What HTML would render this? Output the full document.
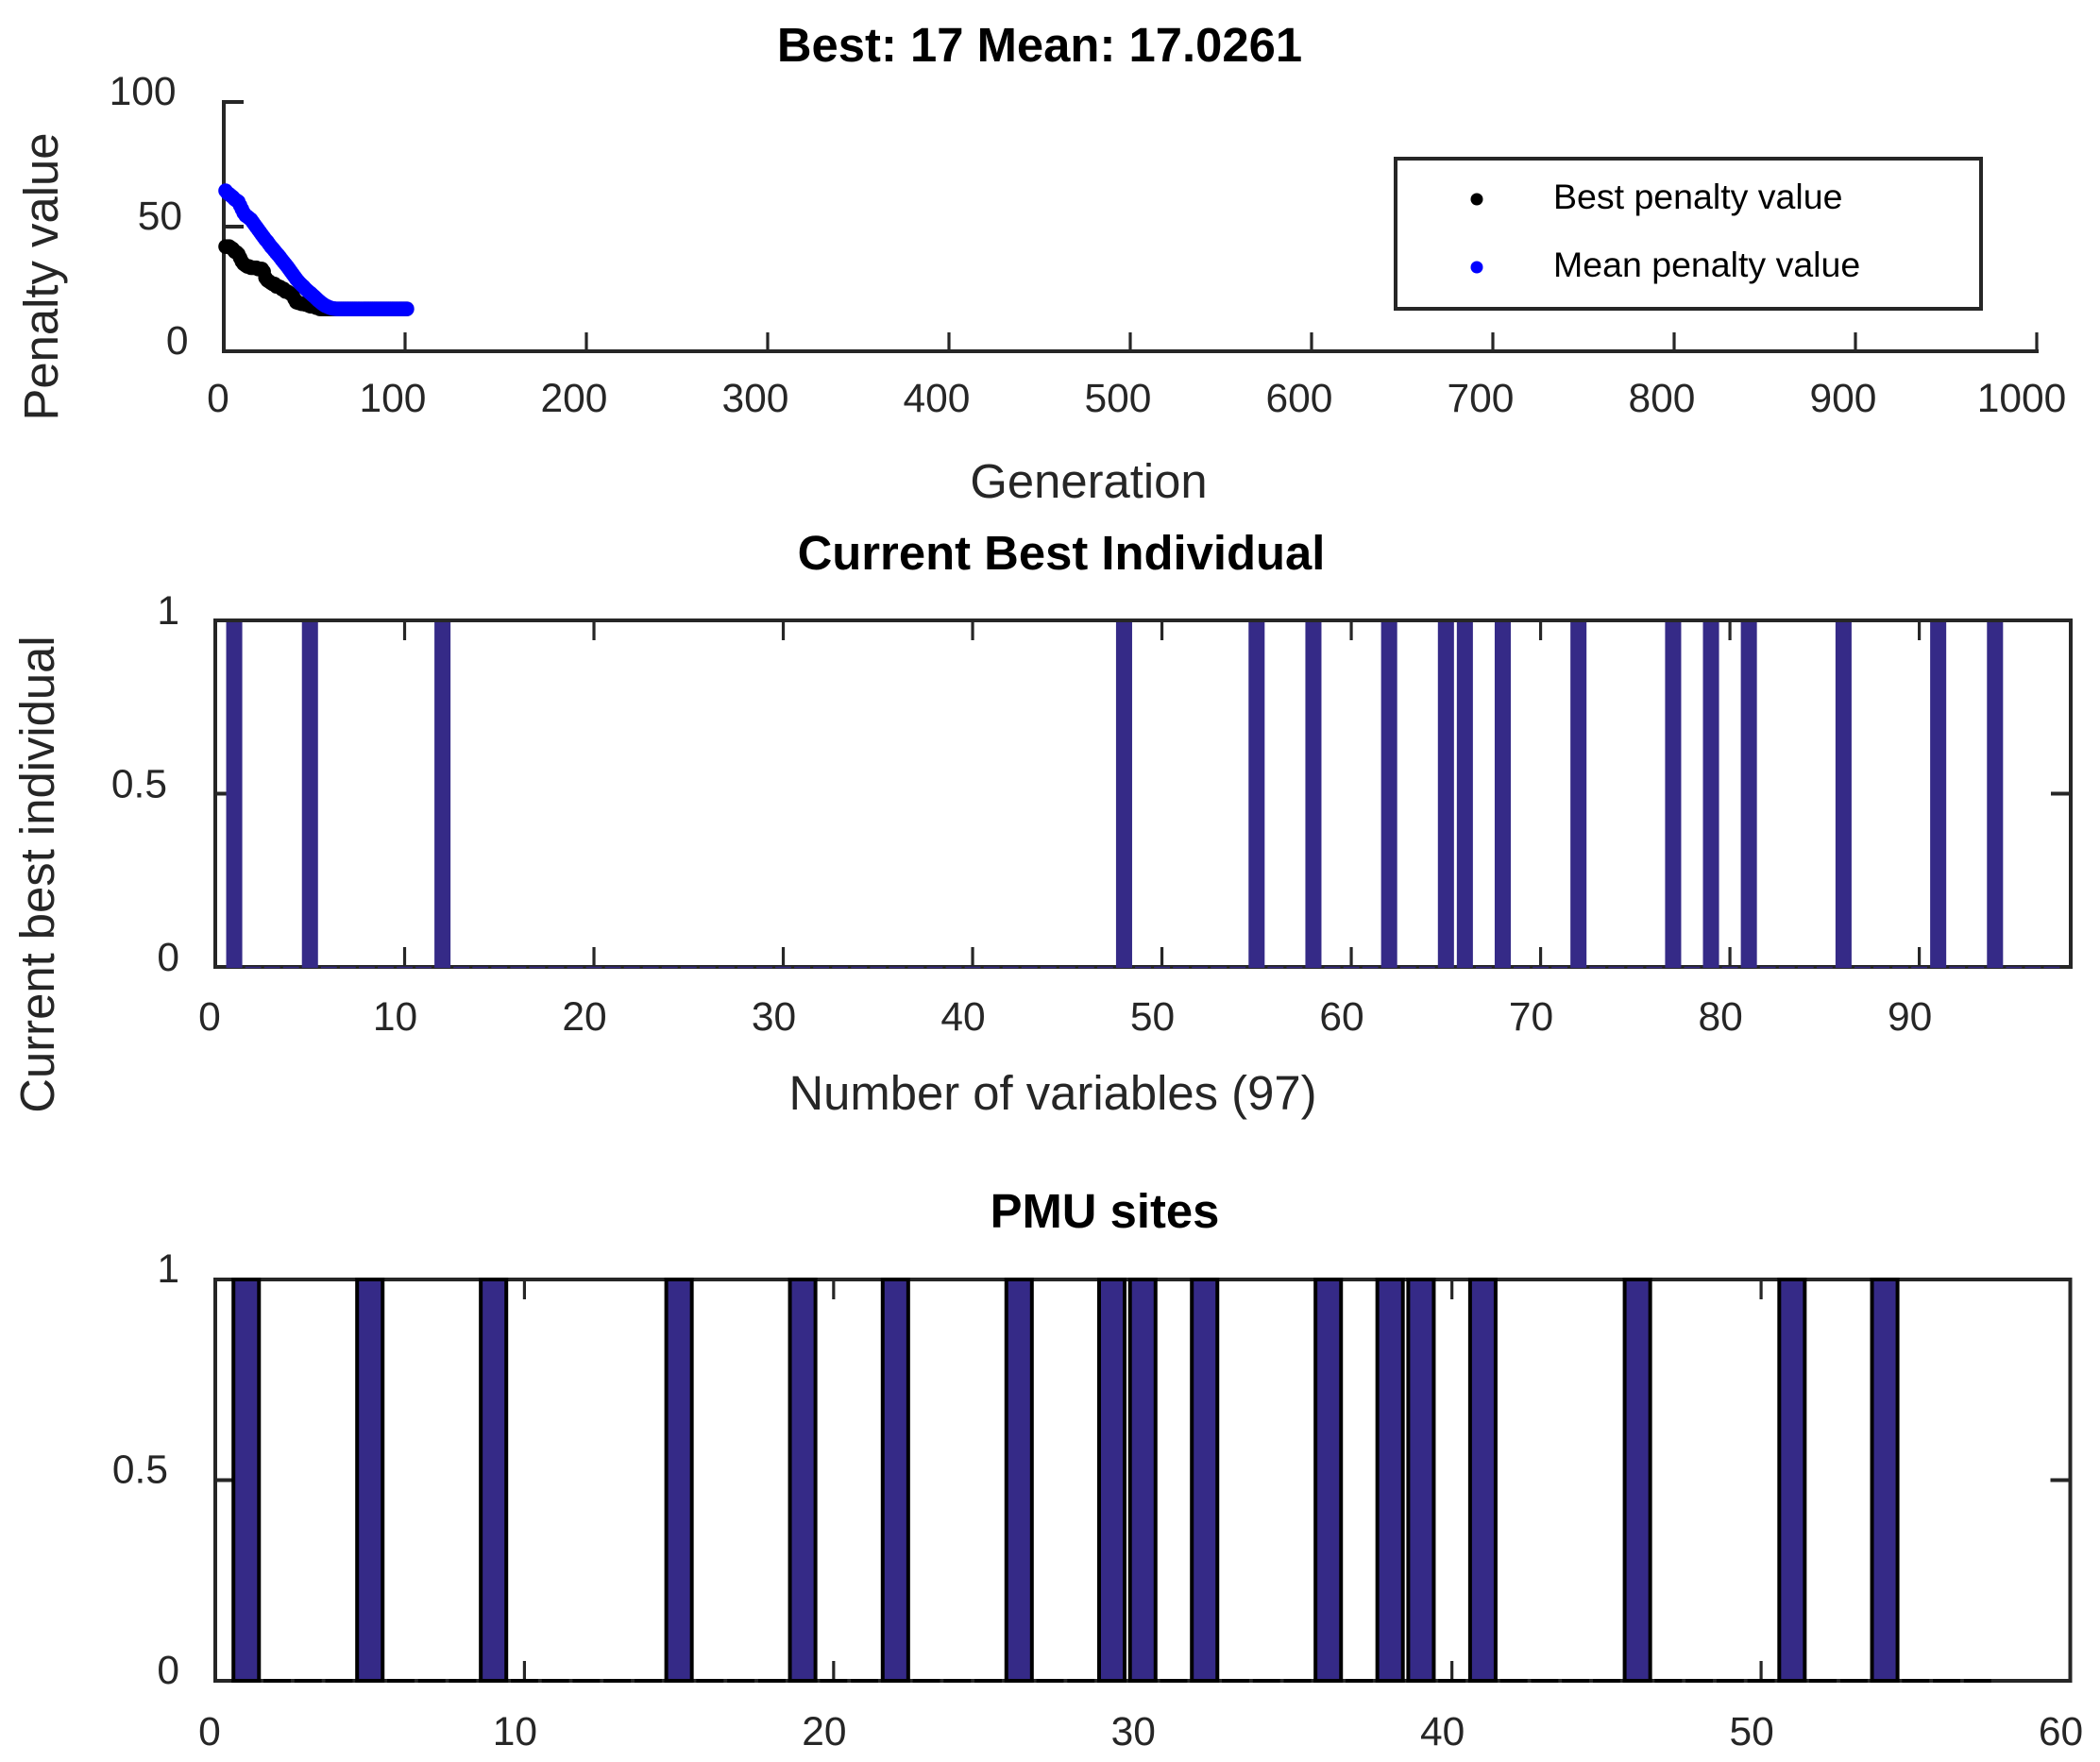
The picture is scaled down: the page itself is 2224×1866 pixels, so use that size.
<!DOCTYPE html>
<html lang="en">
<head>
<meta charset="utf-8">
<title>Genetic algorithm PMU placement</title>
<style>
  html, body { margin: 0; padding: 0; background: #ffffff; }
  svg { display: block; }
  text { font-family: "Liberation Sans", Arial, sans-serif; fill: #262626; }
  .tick-text { font-size: 42.5px; }
  .axis-title { font-size: 50.8px; }
  .chart-title { font-size: 50.8px; font-weight: bold; fill: #000000; }
  .legend-text { font-size: 37.5px; fill: #000000; }
</style>
</head>
<body>
<svg id="figure" xmlns="http://www.w3.org/2000/svg" width="2224" height="1866" viewBox="0 0 2224 1866">
  <rect x="0" y="0" width="2224" height="1866" fill="#ffffff"/>
  <g id="panel-penalty"></g>
  <g id="panel-individual"></g>
  <g id="panel-pmu"></g>

  <text class="chart-title" x="1101" y="65" text-anchor="middle">Best: 17 Mean: 17.0261</text>
  <text class="axis-title" x="1153" y="527" text-anchor="middle">Generation</text>
  <text class="axis-title" x="0" y="0" text-anchor="middle" transform="translate(61 293) rotate(-90)">Penalty value</text>

  <text class="chart-title" x="1124" y="603" text-anchor="middle">Current Best Individual</text>
  <text class="axis-title" x="1115" y="1175" text-anchor="middle">Number of variables (97)</text>
  <text class="axis-title" x="0" y="0" text-anchor="middle" transform="translate(57 926) rotate(-90)">Current best individual</text>

  <text class="chart-title" x="1170" y="1300" text-anchor="middle">PMU sites</text>

  <g>
    <rect x="1478" y="168" width="620" height="159" fill="#ffffff" stroke="#262626" stroke-width="4"/>
    <circle cx="1564" cy="211" r="6.5" fill="#000000"/>
    <text class="legend-text" x="1645" y="221">Best penalty value</text>
    <circle cx="1564" cy="283" r="6.5" fill="#0000ff"/>
    <text class="legend-text" x="1645" y="293">Mean penalty value</text>
  </g>
</svg>
<script>
// ---- Chart data ----
const bestPenalty = [
  42,42,42,41.5,41,40,39.7,39,37.5,36,
  35,34.5,34,34,33.5,33.5,33.5,33.5,33,33,
  33,32,29.5,28.5,28,27.5,27,27,26,26,
  25.8,25,25,24,24,23.5,23,22.5,21,19.7,
  19.5,19.3,19,19,18.8,18.7,18.3,18,18,18,
  17.5,17.5,17,17,17,17,17,17,17,17,
  17,17,17,17,17,17,17,17,17,17,
  17,17,17,17,17,17,17,17,17,17,
  17,17,17,17,17,17,17,17,17,17,
  17,17,17,17,17,17,17,17,17,17,17
];
const meanPenalty = [
  64.4,63.5,63,62.4,61.8,61,60.5,60,58.5,57,
  55.5,54.5,54,53.4,52.8,51.8,50.8,49.8,48.8,47.8,
  46.8,45.8,44.8,44,43,42,41.2,40.3,39.4,38.6,
  37.7,36.7,35.8,34.9,34,33,32,31,30,29,
  28.1,27.3,26.6,25.9,25.1,24.4,23.8,23.2,22.5,21.9,
  21.2,20.5,19.9,19.3,18.8,18.3,18,17.7,17.4,17.2,
  17.1,17,17,17,17,17,17,17,17,17,
  17,17,17,17,17,17,17,17,17,17,
  17,17,17,17,17,17,17,17,17,17,
  17,17,17,17,17,17,17,17,17,17,17
];
const penaltyXTicks = ["0","100","200","300","400","500","600","700","800","900","1000"];
const penaltyYTicks = ["0","50","100"];

const individualVariableCount = 97;
const individualSites = [1,5,12,48,55,58,62,65,66,68,72,77,79,81,86,91,94];
const individualXTicks = ["0","10","20","30","40","50","60","70","80","90"];
const individualYTicks = ["0","0.5","1"];

const pmuVariableCount = 57;
const pmuSites = [1,5,9,15,19,22,26,29,30,32,36,38,39,41,46,51,54];
const pmuXTicks = ["0","10","20","30","40","50","60"];
const pmuYTicks = ["0","0.5","1"];

// ---- Axis functions ----
const INK = "#262626";
const BAR = "#352a87";
function xGen(g) { return 237 + (g / 1000) * 1920; }
function yPen(v) { return 372 - (v / 100) * 264; }
function xVar(v) { return 228 + (v / 98) * 1965; }
function yVar(v) { return 1024 - v * 367; }
function xPmu(v) { return 228 + (v / 60) * 1964.5; }
function yPmu(v) { return 1780 - v * 425; }

const NS = "http://www.w3.org/2000/svg";
function mk(parent, tag, attrs, text) {
  const el = document.createElementNS(NS, tag);
  for (const k in attrs) { el.setAttribute(k, attrs[k]); }
  if (text !== undefined) { el.textContent = text; }
  parent.appendChild(el);
  return el;
}
function line(parent, x1, y1, x2, y2, w) {
  return mk(parent, "line", { x1: x1, y1: y1, x2: x2, y2: y2, stroke: INK, "stroke-width": w || 4 });
}

// ---- Panel 1: penalty value ----
const p1 = document.getElementById("panel-penalty");
{
  const yAxis = line(p1, xGen(0), yPen(100) - 2, xGen(0), yPen(0) + 2);
  
  
  const xAxis = line(p1, xGen(0) - 2, yPen(0), xGen(1000) + 2, yPen(0));
  
  

  penaltyXTicks.forEach(function (label) {
    const v = Number(label);
    if (v > 0) {
      const t = line(p1, xGen(v), yPen(0), xGen(v), yPen(0) - 20, 3.2);
      
      
    }
    const shift = label.length === 1 ? 6 : (label.length === 3 ? 13 : 16);
    const txt = mk(p1, "text", { class: "tick-text", x: xGen(v) - shift, y: 436, "text-anchor": "middle" }, label);
    
    
  });
  penaltyYTicks.forEach(function (label) {
    const v = Number(label);
    if (v > 0) {
      const t = line(p1, xGen(0), yPen(v), xGen(0) + 21, yPen(v));
      
      
    }
    const txt = mk(p1, "text", { class: "tick-text", x: 206 - 6.5 * label.length, y: yPen(v) + 3, "text-anchor": "end" }, label);
    
    
  });

  const bestGroup = mk(p1, "g", {});
  
  
  bestPenalty.forEach(function (v, i) {
    const c = mk(bestGroup, "circle", { cx: xGen(i + 1), cy: yPen(v), r: 7.7, fill: "#000000" });
    
    
  });
  const meanGroup = mk(p1, "g", {});
  
  
  meanPenalty.forEach(function (v, i) {
    const c = mk(meanGroup, "circle", { cx: xGen(i + 1), cy: yPen(v), r: 7.7, fill: "#0000ff" });
    
    
  });
}

// ---- Panel 2: current best individual ----
const p2 = document.getElementById("panel-individual");
{
  const frame = mk(p2, "rect", { x: xVar(0), y: yVar(1), width: xVar(98) - xVar(0), height: yVar(0) - yVar(1), fill: "none", stroke: INK, "stroke-width": 4 });
  
  

  individualXTicks.forEach(function (label) {
    const v = Number(label);
    if (v > 0) {
      const a = line(p2, xVar(v), yVar(0), xVar(v), yVar(0) - 21, 3.2);
      
      
      const b = line(p2, xVar(v), yVar(1), xVar(v), yVar(1) + 21, 3.2);
      
      
    }
    const txt = mk(p2, "text", { class: "tick-text", x: xVar(v) - (label.length === 1 ? 6 : 10), y: 1091, "text-anchor": "middle" }, label);
    
    
  });
  individualYTicks.forEach(function (label) {
    const v = Number(label);
    if (v === 0.5) {
      const a = line(p2, xVar(0), yVar(v), xVar(0) + 21, yVar(v));
      
      
      const b = line(p2, xVar(98), yVar(v), xVar(98) - 21, yVar(v));
      
      
    }
    const txt = mk(p2, "text", { class: "tick-text", x: label === "0.5" ? 177 : 190, y: yVar(v) + 4, "text-anchor": "end" }, label);
    
    
  });

  for (let i = 1; i <= individualVariableCount; i++) {
    const value = individualSites.indexOf(i) >= 0 ? 1 : 0;
    const half = value ? 0.4 : 0.42;
    const l = xVar(i - half), r = xVar(i + half);
    const base = yVar(0) + 0.5;
    const d = value
      ? "M" + l + " " + base + " L" + l + " " + yVar(value) + " L" + r + " " + yVar(value) + " L" + r + " " + base + " Z"
      : "M" + l + " " + base + " L" + r + " " + base;
    const bar = mk(p2, "path", { d: d, fill: BAR, stroke: BAR, "stroke-width": value ? 1 : 1.4 });
    
    
  }
  const topEdge = line(p2, xVar(0), yVar(1), xVar(98), yVar(1));
  
  
}

// ---- Panel 3: PMU sites ----
const p3 = document.getElementById("panel-pmu");
{
  const frame = mk(p3, "rect", { x: xPmu(0), y: yPmu(1), width: xPmu(60) - xPmu(0), height: yPmu(0) - yPmu(1), fill: "none", stroke: INK, "stroke-width": 4 });
  
  

  pmuXTicks.forEach(function (label) {
    const v = Number(label);
    if (v > 0 && v < 60) {
      const a = line(p3, xPmu(v), yPmu(0), xPmu(v), yPmu(0) - 21, 3.2);
      
      
      const b = line(p3, xPmu(v), yPmu(1), xPmu(v), yPmu(1) + 21, 3.2);
      
      
    }
    const txt = mk(p3, "text", { class: "tick-text", x: xPmu(v) - (label.length === 1 ? 6 : 10), y: 1848, "text-anchor": "middle" }, label);
    
    
  });
  pmuYTicks.forEach(function (label) {
    const v = Number(label);
    if (v === 0.5) {
      const a = line(p3, xPmu(0), yPmu(v), xPmu(0) + 21, yPmu(v));
      
      
      const b = line(p3, xPmu(60), yPmu(v), xPmu(60) - 21, yPmu(v));
      
      
    }
    const txt = mk(p3, "text", { class: "tick-text", x: label === "0.5" ? 178 : 190, y: yPmu(v) + 3, "text-anchor": "end" }, label);
    
    
  });

  for (let i = 1; i <= pmuVariableCount; i++) {
    const value = pmuSites.indexOf(i) >= 0 ? 1 : 0;
    const half = value ? 0.413 : 0.44;
    const l = xPmu(i - half), r = xPmu(i + half);
    const d = value
      ? "M" + l + " " + yPmu(0) + " L" + l + " " + yPmu(value) + " L" + r + " " + yPmu(value) + " L" + r + " " + yPmu(0) + " Z"
      : "M" + l + " " + yPmu(0) + " L" + r + " " + yPmu(0);
    const bar = mk(p3, "path", { d: d, fill: BAR, stroke: "#000000", "stroke-width": 4 });
    
    
  }
}
</script>
</body>
</html>
